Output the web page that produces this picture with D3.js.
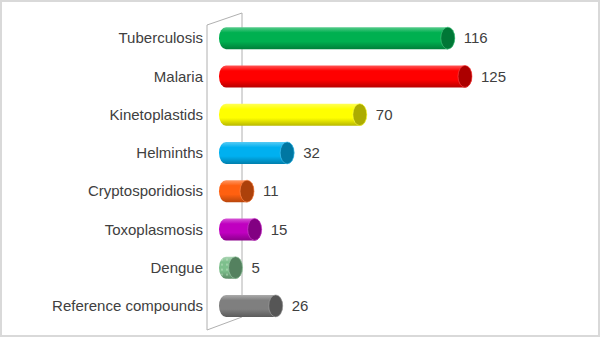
<!DOCTYPE html>
<html lang="en">
<head>
<meta charset="utf-8">
<title>Compounds per disease</title>
<script src="https://cdn.jsdelivr.net/npm/d3@7"></script>
<style>
  body { margin: 0; background: #fff; }
  text { font-family: "Liberation Sans", Arial, sans-serif; fill: #404040; }
</style>
</head>
<body>
<script>
// data
var categories = ["Tuberculosis", "Malaria", "Kinetoplastids", "Helminths",
                  "Cryptosporidiosis", "Toxoplasmosis", "Dengue", "Reference compounds"];
var values = [116, 125, 70, 32, 11, 15, 5, 26];
var colors = ["#00b050", "#ff0000", "#ffff00", "#00b0f0",
              "#ff6010", "#c000c0", "#7dbf8c", "#7f7f7f"];

var width = 600, height = 337;

var svg = d3.select("body").append("svg")
    .attr("width", width)
    .attr("height", height);

// outer frame
svg.append("rect")
    .attr("x", 1).attr("y", 1)
    .attr("width", width - 2).attr("height", height - 2)
    .attr("fill", "none")
    .attr("stroke", "#d9d9d9")
    .attr("stroke-width", 2);

var x = d3.scaleLinear().domain([0, 125]).range([226, 465]);
var y = d3.scaleBand().domain(categories).range([19, 325]);

var ry = 11, rx = 7;

var defs = svg.append("defs");
colors.forEach(function(c, i) {
  var base = d3.color(c);
  var g = defs.append("linearGradient")
      .attr("id", "grad" + i)
      .attr("x1", 0).attr("y1", 0).attr("x2", 0).attr("y2", 1);
  g.append("stop").attr("offset", "0%").attr("stop-color", d3.interpolateRgb(c, "#fff")(0.35));
  g.append("stop").attr("offset", "25%").attr("stop-color", c);
  g.append("stop").attr("offset", "65%").attr("stop-color", c);
  g.append("stop").attr("offset", "100%").attr("stop-color", base.darker(0.9));
});

// dotted texture for dengue
var pat = defs.append("pattern")
    .attr("id", "dots")
    .attr("width", 5).attr("height", 5)
    .attr("patternUnits", "userSpaceOnUse");
pat.append("circle").attr("cx", 2).attr("cy", 2).attr("r", 0.7).attr("fill", "#d8f0d8");

// wall (drawn behind bars)
var x0 = x(0);
var yTop = y.range()[0], yBot = y.range()[1];
var wall = [
  [[x0 - 19, yTop + 6], [x0 - 19, yBot + 5]],
  [[x0 + 16, yTop - 6], [x0 + 16, yBot - 8]],
  [[x0 - 19, yTop + 6], [x0 + 16, yTop - 6]],
  [[x0 - 19, yBot + 5], [x0 + 16, yBot - 8]]
];
svg.append("g").selectAll("line")
  .data(wall)
  .enter().append("line")
    .attr("x1", function(d) { return d[0][0]; })
    .attr("y1", function(d) { return d[0][1]; })
    .attr("x2", function(d) { return d[1][0]; })
    .attr("y2", function(d) { return d[1][1]; })
    .attr("stroke", "#b0b0b0")
    .attr("stroke-width", 1);

var rows = categories.map(function(c, i) { return {name: c, value: values[i], color: colors[i], i: i}; });

var bars = svg.append("g").selectAll("g")
  .data(rows)
  .enter().append("g")
    .attr("transform", function(d) { return "translate(0," + (y(d.name) + y.bandwidth() / 2) + ")"; });

function bodyPath(d) {
  var a = x(0), b = x(d.value);
  return "M" + a + "," + (-ry) +
         "L" + b + "," + (-ry) +
         "A" + rx + "," + ry + " 0 0 1 " + b + "," + ry +
         "L" + a + "," + ry +
         "A" + rx + "," + ry + " 0 0 1 " + a + "," + (-ry) + "Z";
}

bars.append("path")
    .attr("d", bodyPath)
    .attr("fill", function(d) { return "url(#grad" + d.i + ")"; });

bars.filter(function(d) { return d.name === "Dengue"; })
  .append("path")
    .attr("d", bodyPath)
    .attr("fill", "url(#dots)");

bars.append("ellipse")
    .attr("cx", function(d) { return x(d.value); })
    .attr("cy", 0)
    .attr("rx", rx)
    .attr("ry", ry)
    .attr("fill", function(d) { return d3.color(d.color).darker(1.1); })
    .attr("stroke", function(d) { return d3.interpolateRgb(d.color, "#fff")(0.3); })
    .attr("stroke-width", 0.6);

// value labels
bars.append("text")
    .attr("x", function(d) { return x(d.value) + rx + 9; })
    .attr("y", 0)
    .attr("dy", "0.35em")
    .attr("font-size", 15)
    .text(function(d) { return d.value; });

// category labels
svg.append("g").selectAll("text")
  .data(categories)
  .enter().append("text")
    .attr("x", 203)
    .attr("y", function(d) { return y(d) + y.bandwidth() / 2; })
    .attr("dy", "0.35em")
    .attr("text-anchor", "end")
    .attr("font-size", 15)
    .text(function(d) { return d; });
</script>
</body>
</html>
